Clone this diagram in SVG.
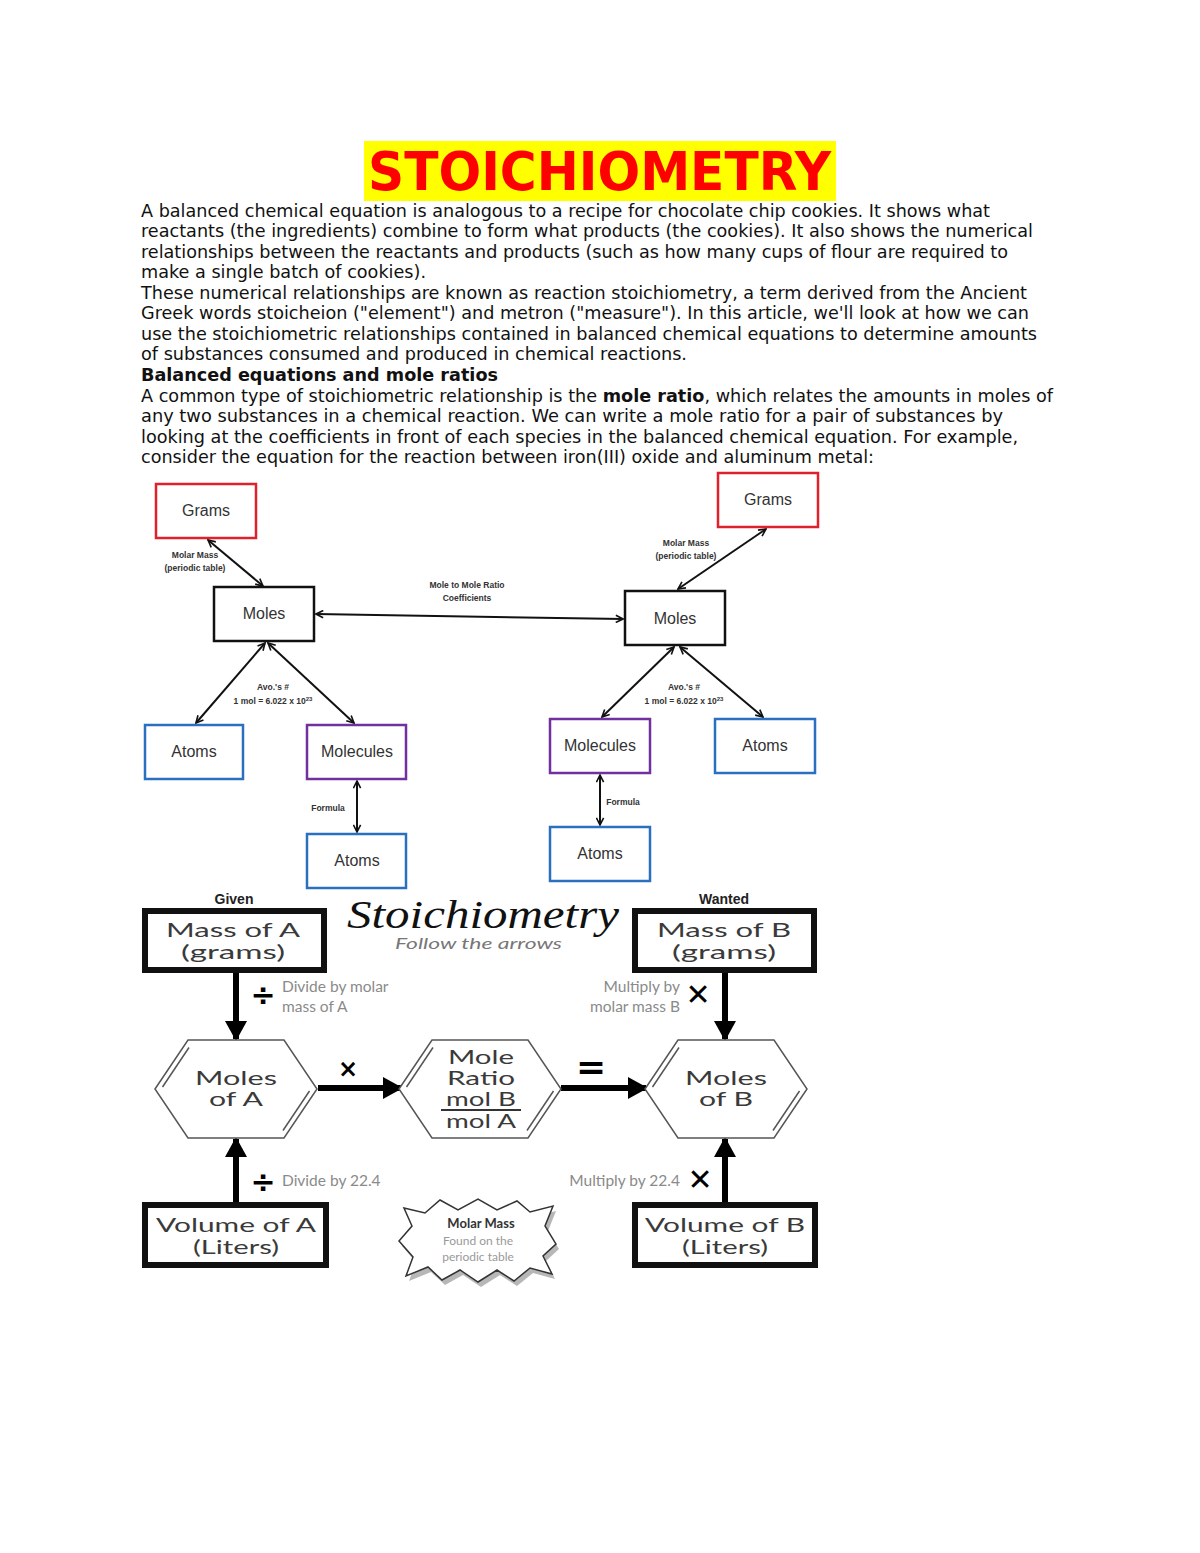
<svg xmlns="http://www.w3.org/2000/svg" width="1200" height="1553" viewBox="0 0 1200 1553">
<style>
.body{font-family:"DejaVu Sans","Liberation Sans",sans-serif;font-size:17px;fill:#111}
.nt{font-family:"Liberation Sans",Arial,sans-serif;font-size:16px;fill:#333;text-anchor:middle}
.sm{font-family:"Liberation Sans",Arial,sans-serif;font-size:8.5px;font-weight:bold;fill:#333;text-anchor:middle}
.big{font-family:"Lato","Noto Sans",sans-serif;font-size:20px;fill:#3a3a3a;text-anchor:middle}
.cap{font-family:"Lato","Noto Sans",sans-serif;font-size:15.5px;fill:#8a8a8a}
.sym{font-family:"DejaVu Sans",sans-serif;font-weight:bold;fill:#000;text-anchor:middle}
.red{fill:#fff;stroke:#e0202a;stroke-width:2.5}
.blk{fill:#fff;stroke:#111;stroke-width:2.5}
.blu{fill:#fff;stroke:#2a6fc0;stroke-width:2.5}
.pur{fill:#fff;stroke:#7030a0;stroke-width:2.5}
.thick{fill:#fff;stroke:#111;stroke-width:6}
.hex{fill:#fff;stroke:#555;stroke-width:1.5}
.thin{stroke:#111;stroke-width:2;fill:none;marker-start:url(#v);marker-end:url(#v)}
.fat{stroke:#000;stroke-width:6;fill:none;marker-end:url(#tri)}
</style>
<defs>
<marker id="v" viewBox="0 0 10 10" refX="9" refY="5" markerWidth="9" markerHeight="9" markerUnits="userSpaceOnUse" orient="auto-start-reverse">
<path d="M1,1 L9,5 L1,9" fill="none" stroke="#111" stroke-width="1.8"/>
</marker>
<marker id="tri" viewBox="0 0 20 22" refX="18" refY="11" markerWidth="20" markerHeight="22" markerUnits="userSpaceOnUse" orient="auto">
<path d="M0,0 L20,11 L0,22 z" fill="#000"/>
</marker>
<g id="hexshape">
<polygon class="hex" points="-81,0 -48,-49 48,-49 81,0 48,49 -48,49"/>
<line x1="-73.5" y1="-2" x2="-47" y2="-41.5" stroke="#555" stroke-width="1.5"/>
<line x1="73.5" y1="2" x2="47" y2="41.5" stroke="#555" stroke-width="1.5"/>
</g>
</defs>
<rect width="1200" height="1553" fill="#fff"/>

<g id="title">
<rect x="364" y="141" width="472" height="60" fill="#ffff00"/>
<text x="368" y="190" font-family="DejaVu Sans,Liberation Sans,sans-serif" font-weight="bold" font-size="54" fill="#ff0000" textLength="463" lengthAdjust="spacingAndGlyphs">STOICHIOMETRY</text>
</g>

<g id="bodytext" class="body">
<text x="141" y="217" textLength="849" lengthAdjust="spacingAndGlyphs">A balanced chemical equation is analogous to a recipe for chocolate chip cookies. It shows what</text>
<text x="141" y="237" textLength="892" lengthAdjust="spacingAndGlyphs">reactants (the ingredients) combine to form what products (the cookies). It also shows the numerical</text>
<text x="141" y="258" textLength="867" lengthAdjust="spacingAndGlyphs">relationships between the reactants and products (such as how many cups of flour are required to</text>
<text x="141" y="278" textLength="285" lengthAdjust="spacingAndGlyphs">make a single batch of cookies).</text>
<text x="141" y="299" textLength="886" lengthAdjust="spacingAndGlyphs">These numerical relationships are known as reaction stoichiometry, a term derived from the Ancient</text>
<text x="141" y="319" textLength="888" lengthAdjust="spacingAndGlyphs">Greek words stoicheion ("element") and metron ("measure"). In this article, we'll look at how we can</text>
<text x="141" y="340" textLength="896" lengthAdjust="spacingAndGlyphs">use the stoichiometric relationships contained in balanced chemical equations to determine amounts</text>
<text x="141" y="360" textLength="546" lengthAdjust="spacingAndGlyphs">of substances consumed and produced in chemical reactions.</text>
<text x="141" y="381" font-weight="bold" textLength="357" lengthAdjust="spacingAndGlyphs">Balanced equations and mole ratios</text>
<text x="141" y="402" textLength="912" lengthAdjust="spacingAndGlyphs">A common type of stoichiometric relationship is the <tspan font-weight="bold">mole ratio</tspan>, which relates the amounts in moles of</text>
<text x="141" y="422" textLength="862" lengthAdjust="spacingAndGlyphs">any two substances in a chemical reaction. We can write a mole ratio for a pair of substances by</text>
<text x="141" y="443" textLength="877" lengthAdjust="spacingAndGlyphs">looking at the coefficients in front of each species in the balanced chemical equation. For example,</text>
<text x="141" y="463" textLength="733" lengthAdjust="spacingAndGlyphs">consider the equation for the reaction between iron(III) oxide and aluminum metal:</text>
</g>

<g id="connectors">
<line class="thin" x1="208" y1="540" x2="263" y2="586"/>
<line class="thin" x1="265" y1="643" x2="196" y2="723"/>
<line class="thin" x1="268" y1="643" x2="354" y2="723"/>
<line class="thin" x1="357" y1="781" x2="357" y2="832"/>
<line class="thin" x1="316" y1="614" x2="623" y2="619"/>
<line class="thin" x1="766" y1="529" x2="678" y2="589"/>
<line class="thin" x1="674" y1="647" x2="602" y2="717"/>
<line class="thin" x1="680" y1="647" x2="763" y2="717"/>
<line class="thin" x1="600" y1="775" x2="600" y2="825"/>
<line class="fat" x1="236" y1="973" x2="236" y2="1039"/>
<line class="fat" x1="725" y1="973" x2="725" y2="1039"/>
<line class="fat" x1="318" y1="1088" x2="401" y2="1088"/>
<line class="fat" x1="561" y1="1088" x2="646" y2="1088"/>
<line class="fat" x1="236" y1="1202" x2="236" y2="1139"/>
<line class="fat" x1="725" y1="1202" x2="725" y2="1139"/>
</g>

<g id="labels">
<text class="sm" x="195" y="558">Molar Mass</text>
<text class="sm" x="195" y="571">(periodic table)</text>
<text class="sm" x="467" y="588">Mole to Mole Ratio</text>
<text class="sm" x="467" y="601">Coefficients</text>
<text class="sm" x="686" y="546">Molar Mass</text>
<text class="sm" x="686" y="559">(periodic table)</text>
<text class="sm" x="273" y="690">Avo.'s #</text>
<text class="sm" x="273" y="704">1 mol = 6.022 x 10<tspan font-size="6" dy="-3">23</tspan></text>
<text class="sm" x="684" y="690">Avo.'s #</text>
<text class="sm" x="684" y="704">1 mol = 6.022 x 10<tspan font-size="6" dy="-3">23</tspan></text>
<text class="sm" x="328" y="811">Formula</text>
<text class="sm" x="623" y="805">Formula</text>
</g>

<g id="grams-left"><rect class="red" x="156" y="484" width="100" height="54"/><text class="nt" x="206" y="516">Grams</text></g>
<g id="moles-left"><rect class="blk" x="214" y="587" width="100" height="54"/><text class="nt" x="264" y="619">Moles</text></g>
<g id="atoms-left"><rect class="blu" x="145" y="725" width="98" height="54"/><text class="nt" x="194" y="757">Atoms</text></g>
<g id="molecules-left"><rect class="pur" x="307" y="725" width="99" height="54"/><text class="nt" x="357" y="757">Molecules</text></g>
<g id="atoms-left-2"><rect class="blu" x="307" y="834" width="99" height="54"/><text class="nt" x="357" y="866">Atoms</text></g>

<g id="grams-right"><rect class="red" x="718" y="473" width="100" height="54"/><text class="nt" x="768" y="505">Grams</text></g>
<g id="moles-right"><rect class="blk" x="625" y="591" width="100" height="54"/><text class="nt" x="675" y="624">Moles</text></g>
<g id="molecules-right"><rect class="pur" x="550" y="719" width="100" height="54"/><text class="nt" x="600" y="751">Molecules</text></g>
<g id="atoms-right"><rect class="blu" x="715" y="719" width="100" height="54"/><text class="nt" x="765" y="751">Atoms</text></g>
<g id="atoms-right-2"><rect class="blu" x="550" y="827" width="100" height="54"/><text class="nt" x="600" y="859">Atoms</text></g>

<g id="script-title">
<text x="347" y="928" font-family="Liberation Serif,serif" font-style="italic" font-size="40" fill="#111" textLength="272" lengthAdjust="spacingAndGlyphs">Stoichiometry</text>
<text x="395" y="949" font-family="Lato,Noto Sans,sans-serif" font-style="italic" font-size="15" fill="#777" textLength="167" lengthAdjust="spacingAndGlyphs">Follow the arrows</text>
</g>

<g id="mass-a">
<text x="234" y="904" font-family="Liberation Sans,Arial,sans-serif" font-weight="bold" font-size="14" fill="#222" text-anchor="middle">Given</text>
<rect class="thick" x="145" y="911" width="179" height="59"/>
<text class="big" x="233" y="937" textLength="134" lengthAdjust="spacingAndGlyphs">Mass of A</text>
<text class="big" x="233" y="959" textLength="104" lengthAdjust="spacingAndGlyphs">(grams)</text>
</g>
<g id="mass-b">
<text x="724" y="904" font-family="Liberation Sans,Arial,sans-serif" font-weight="bold" font-size="14" fill="#222" text-anchor="middle">Wanted</text>
<rect class="thick" x="635" y="911" width="179" height="59"/>
<text class="big" x="724" y="937" textLength="134" lengthAdjust="spacingAndGlyphs">Mass of B</text>
<text class="big" x="724" y="959" textLength="104" lengthAdjust="spacingAndGlyphs">(grams)</text>
</g>

<g id="ops">
<text class="sym" x="263" y="1005" font-size="30">÷</text>
<text class="cap" x="282" y="992">Divide by molar</text>
<text class="cap" x="282" y="1012">mass of A</text>
<text class="cap" x="680" y="992" text-anchor="end">Multiply by</text>
<text class="cap" x="680" y="1012" text-anchor="end">molar mass B</text>
<text class="sym" x="698" y="1005" font-size="30">✕</text>
<text class="sym" x="348" y="1077" font-size="24">×</text>
<text class="sym" x="591" y="1079" font-size="36">=</text>
<text class="sym" x="263" y="1192" font-size="30">÷</text>
<text class="cap" x="282" y="1186">Divide by 22.4</text>
<text class="cap" x="680" y="1186" text-anchor="end">Multiply by 22.4</text>
<text class="sym" x="700" y="1190" font-size="30">✕</text>
</g>

<g id="moles-a">
<use href="#hexshape" transform="translate(236,1089)"/>
<text class="big" x="236" y="1085" textLength="82" lengthAdjust="spacingAndGlyphs">Moles</text>
<text class="big" x="236" y="1106" textLength="54" lengthAdjust="spacingAndGlyphs">of A</text>
</g>
<g id="mole-ratio">
<use href="#hexshape" transform="translate(480,1089)"/>
<text class="big" x="481" y="1064" textLength="66" lengthAdjust="spacingAndGlyphs">Mole</text>
<text class="big" x="481" y="1085" textLength="68" lengthAdjust="spacingAndGlyphs">Ratio</text>
<text class="big" x="481" y="1106" textLength="70" lengthAdjust="spacingAndGlyphs">mol B</text>
<line x1="441" y1="1110" x2="521" y2="1110" stroke="#333" stroke-width="1.8"/>
<text class="big" x="481" y="1128" textLength="70" lengthAdjust="spacingAndGlyphs">mol A</text>
</g>
<g id="moles-b">
<use href="#hexshape" transform="translate(726,1089)"/>
<text class="big" x="726" y="1085" textLength="82" lengthAdjust="spacingAndGlyphs">Moles</text>
<text class="big" x="726" y="1106" textLength="54" lengthAdjust="spacingAndGlyphs">of B</text>
</g>

<g id="volume-a">
<rect class="thick" x="145" y="1205" width="181" height="60"/>
<text class="big" x="236" y="1232" textLength="160" lengthAdjust="spacingAndGlyphs">Volume of A</text>
<text class="big" x="236" y="1254" textLength="86" lengthAdjust="spacingAndGlyphs">(Liters)</text>
</g>
<g id="volume-b">
<rect class="thick" x="635" y="1205" width="180" height="60"/>
<text class="big" x="725" y="1232" textLength="160" lengthAdjust="spacingAndGlyphs">Volume of B</text>
<text class="big" x="725" y="1254" textLength="86" lengthAdjust="spacingAndGlyphs">(Liters)</text>
</g>

<g id="molar-mass-burst">
<polygon transform="translate(3,5)" fill="#999" opacity="0.7" points="404,1208 425,1213 440,1200 458,1210 478,1199 497,1210 517,1201 530,1212 553,1206 545,1226 556,1244 543,1256 552,1274 530,1268 514,1281 497,1270 478,1282 460,1270 442,1280 428,1267 406,1276 413,1257 399,1241 412,1226"/>
<polygon fill="#fff" stroke="#333" stroke-width="1.5" points="404,1208 425,1213 440,1200 458,1210 478,1199 497,1210 517,1201 530,1212 553,1206 545,1226 556,1244 543,1256 552,1274 530,1268 514,1281 497,1270 478,1282 460,1270 442,1280 428,1267 406,1276 413,1257 399,1241 412,1226"/>
<text x="481" y="1228" font-family="Lato,Noto Sans,sans-serif" font-weight="bold" font-size="13" fill="#333" text-anchor="middle">Molar Mass</text>
<text x="478" y="1245" font-family="Lato,Noto Sans,sans-serif" font-size="12" fill="#999" text-anchor="middle">Found on the</text>
<text x="478" y="1261" font-family="Lato,Noto Sans,sans-serif" font-size="12" fill="#999" text-anchor="middle">periodic table</text>
</g>
</svg>
